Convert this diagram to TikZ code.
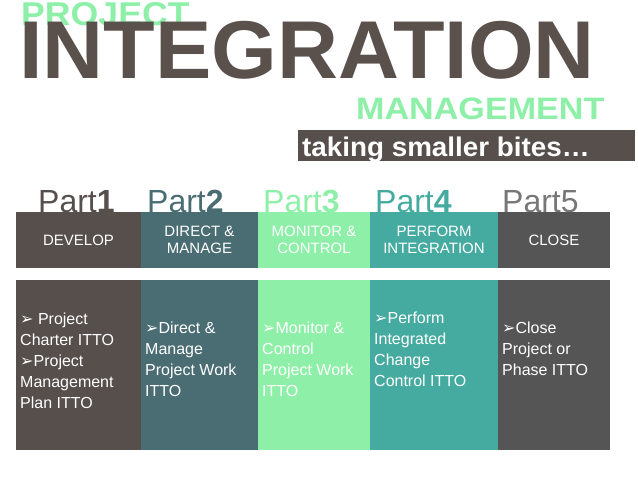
\documentclass[tikz,border=0pt]{standalone}
\usepackage{fontspec}
\setmainfont{Liberation Sans}
\newfontfamily\dv{DejaVu Sans}
\definecolor{cA}{HTML}{574F4C}
\definecolor{cB}{HTML}{4A6D73}
\definecolor{cC}{HTML}{8EF0A8}
\definecolor{cD}{HTML}{45ABA0}
\definecolor{cE}{HTML}{555555}
\definecolor{cT}{HTML}{5A504C}
\newcommand{\arr}{{\dv\char"27A2}}
\begin{document}
\begin{tikzpicture}[x=1pt,y=-1pt,
  hdr/.style={fill=#1,text=white,font=\fontsize{15}{17}\selectfont,align=center,inner sep=0},
  body/.style={fill=#1,text=white,font=\fontsize{16}{21}\selectfont,align=left,inner sep=0},
  part/.style={font=\fontsize{32}{32}\selectfont,anchor=base west,inner sep=0}]
\useasboundingbox (0,0) rectangle (638,479);
\node[anchor=base west,inner sep=0,text=cC,font=\bfseries\fontsize{33}{33}\selectfont,xscale=1.08] (p) at (21,26) {PROJECT};
\node[anchor=base west,inner sep=0,text=cT,font=\bfseries\fontsize{82}{82}\selectfont,xscale=1.03] (i) at (19,78) {INTEGRATION};
\node[anchor=base west,inner sep=0,text=cC,font=\bfseries\fontsize{31}{31}\selectfont,xscale=1.1] (m) at (356,119) {MANAGEMENT};
\fill[cA] (298,130) rectangle (635,161);
\node[anchor=base west,inner sep=0,text=white,font=\bfseries\fontsize{27}{27}\selectfont,xscale=1.03] (t) at (302,156) {taking smaller bites…};
\node[part,text=cA] (q1) at (38,212) {Part\textbf{1}};
\node[part,text=cB] (q2) at (147,212) {Part\textbf{2}};
\node[part,text=cC] (q3) at (263,212) {Part\textbf{3}};
\node[part,text=cD] (q4) at (375,212) {Part\textbf{4}};
\node[part,text=cE!80] (q5) at (502,212) {Part5};
\foreach \n/\a/\b/\c/\t in {1/16/141/cA/DEVELOP,2/141/258/cB/DIRECT \&\\MANAGE,3/258/370/cC/MONITOR \&\\CONTROL,4/370/498/cD/PERFORM\\INTEGRATION,5/498/610/cE/CLOSE}{
  \fill[\c] (\a,212) rectangle (\b,268);
  \node[hdr=\c] (h\n) at ({(\a+\b)/2},240) {\t};
}
\fill[cA] (16,280) rectangle (141,450);
\fill[cB] (141,280) rectangle (258,450);
\fill[cC] (258,280) rectangle (370,450);
\fill[cD] (370,280) rectangle (498,450);
\fill[cE] (498,280) rectangle (610,450);
\node[body=cA,anchor=north west] (b1) at (20,313) {\arr\ Project\\Charter ITTO\\\arr Project\\Management\\Plan ITTO};
\node[body=cB,anchor=north west] (b2) at (145,322) {\arr Direct \&\\Manage\\Project Work\\ITTO};
\node[body=cC,anchor=north west] (b3) at (262,322) {\arr Monitor \&\\Control\\Project Work\\ITTO};
\node[body=cD,anchor=north west] (b4) at (374,312) {\arr Perform\\Integrated\\Change\\Control ITTO};
\node[body=cE,anchor=north west] (b5) at (502,322) {\arr Close\\Project or\\Phase ITTO};
\end{tikzpicture}
\end{document}
